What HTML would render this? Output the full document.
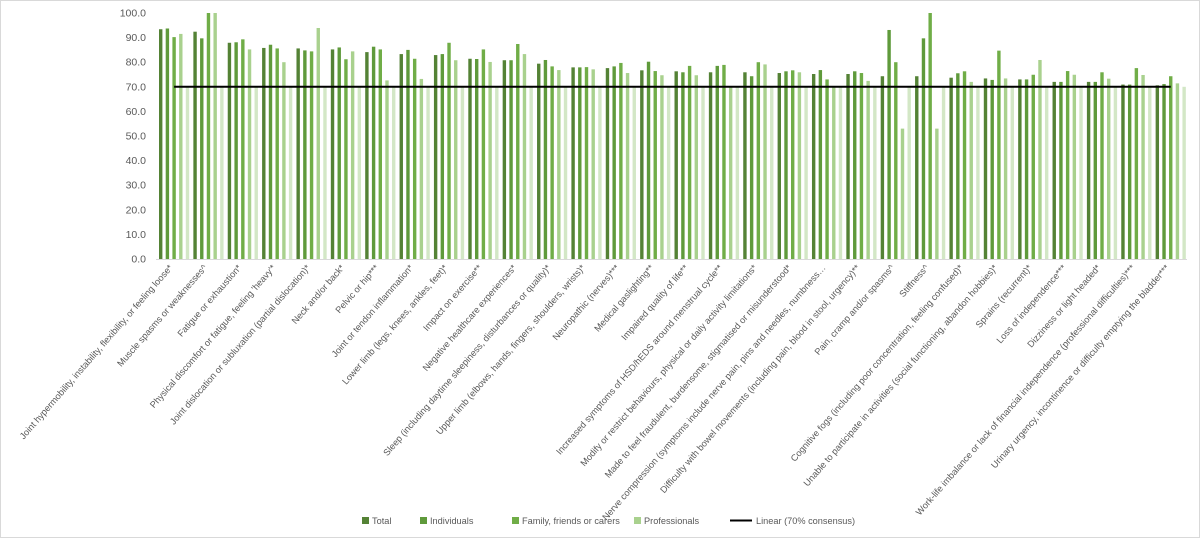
<!DOCTYPE html>
<html><head><meta charset="utf-8"><style>
html,body{margin:0;padding:0;background:#fff}
svg{display:block;font-family:"Liberation Sans",sans-serif}
</style></head><body>
<svg id="chart" width="1200" height="538" viewBox="0 0 1200 538" xmlns="http://www.w3.org/2000/svg">
<rect x="0.5" y="0.5" width="1199" height="537" fill="#fff" stroke="#d9d9d9"/>
<g id="yaxis"></g>
<g id="bars"></g>
<g id="xaxis"></g>
<g id="legend"></g>
</svg>
<script>
const categories = [
"Joint hypermobility, instability, flexibility, or feeling loose*",
"Muscle spasms or weaknesses^",
"Fatigue or exhaustion*",
"Physical discomfort or fatigue, feeling 'heavy'*",
"Joint dislocation or subluxation (partial dislocation)*",
"Neck and/or back*",
"Pelvic or hip***",
"Joint or tendon inflammation*",
"Lower limb (legs, knees, ankles, feet)*",
"Impact on exercise**",
"Negative healthcare experiences*",
"Sleep (including daytime sleepiness, disturbances or quality)*",
"Upper limb (elbows, hands, fingers, shoulders, wrists)*",
"Neuropathic (nerves)***",
"Medical gaslighting**",
"Impaired quality of life**",
"Increased symptoms of HSD/hEDS around menstrual cycle**",
"Modify or restrict behaviours, physical or daily activity limitations*",
"Made to feel fraudulent, burdensome, stigmatised or misunderstood*",
"Nerve compression (symptoms include nerve pain, pins and needles, numbness…",
"Difficulty with bowel movements (including pain, blood in stool, urgency)**",
"Pain, cramp and/or spasms^",
"Stiffness^",
"Cognitive fogs (including poor concentration, feeling confused)*",
"Unable to participate in activities (social functioning, abandon hobbies)*",
"Sprains (recurrent)*",
"Loss of independence***",
"Dizziness or light headed*",
"Work-life imbalance or lack of financial independence (professional difficulties)***",
"Urinary urgency, incontinence or difficulty emptying the bladder***"
];
const totalValues = [93.4,92.4,87.9,85.8,85.6,85.2,84.1,83.3,82.9,81.4,80.8,79.4,77.9,77.6,76.7,76.3,75.9,75.9,75.6,75.2,75.2,74.3,74.3,73.7,73.4,73.0,72.0,72.0,70.9,70.6];
const individualValues = [93.7,89.7,88.1,87.1,84.8,86.0,86.3,85.0,83.3,81.3,80.8,80.9,77.9,78.3,80.2,75.9,78.5,74.3,76.3,76.8,76.3,93.1,89.7,75.5,72.8,73.0,72.0,72.0,70.9,71.1];
const familyValues = [90.2,100,89.3,85.6,84.4,81.2,85.2,81.4,87.9,85.2,87.4,78.3,78.0,79.7,76.4,78.5,78.9,80.0,76.7,73.0,75.6,80.0,100,76.3,84.7,74.9,76.4,75.9,77.6,74.3];
const professionalValues = [91.5,100,85.2,80.0,93.9,84.4,72.6,73.2,80.8,80.1,83.3,76.8,77.1,75.6,74.7,74.7,70.0,79.1,75.9,70.0,72.4,53.0,53.0,72.0,73.4,80.9,74.9,73.3,74.8,71.4];
const consensusValue = 70;
const yTicks = ["0.0","10.0","20.0","30.0","40.0","50.0","60.0","70.0","80.0","90.0","100.0"];

const NS="http://www.w3.org/2000/svg";
const X0=156, X1=1187, Y0=259, YTOP=13;
const pitch=(X1-X0)/categories.length;
function yScale(v){return Y0-(v/100)*(Y0-YTOP);}
function xBar(k,s){return X0+pitch*k+3+s*6.7;}
function mk(tag,attrs,parent){const e=document.createElementNS(NS,tag);for(const a in attrs)e.setAttribute(a,attrs[a]);parent.appendChild(e);return e;}

const yaxis=document.getElementById('yaxis');
yTicks.forEach(t=>{
  const e=mk('text',{x:146,y:yScale(parseFloat(t))+3.5,'text-anchor':'end','font-size':'10.5',fill:'#595959'},yaxis);
  
  
  e.textContent=t;
});

const bars=document.getElementById('bars');
const series=[
 {vals:totalValues,color:'#548235',name:'total'},
 {vals:individualValues,color:'#5f9a3b',name:'individuals'},
 {vals:familyValues,color:'#70ad47',name:'family'},
 {vals:professionalValues,color:'#a9d18e',name:'professionals'}
];
categories.forEach((c,k)=>{
  series.forEach((s,si)=>{
    const v=s.vals[k];
    const r=mk('rect',{x:xBar(k,si),y:yScale(v),width:3.4,height:Y0-yScale(v),fill:s.color},bars);
    
    
  });
  const r=mk('rect',{x:xBar(k,4),y:yScale(consensusValue),width:3.4,height:Y0-yScale(consensusValue),fill:'#d3e7c6'},bars);
  
  
});
const ln=mk('line',{x1:xBar(0,2)+1.7,x2:xBar(categories.length-1,2)+1.7,y1:yScale(consensusValue),y2:yScale(consensusValue),stroke:'#000','stroke-width':2},bars);



const xaxis=document.getElementById('xaxis');
const ax=mk('line',{x1:X0,x2:X1,y1:Y0+0.5,y2:Y0+0.5,stroke:'#d9d9d9','stroke-width':1},xaxis);


categories.forEach((c,k)=>{
  const cx=X0+pitch*k+pitch/2;
  const t=mk('text',{x:cx,y:Y0+9,'text-anchor':'end','font-size':'9.2',fill:'#595959',transform:`rotate(-49 ${cx} ${Y0+9})`},xaxis);
  
  
  t.textContent=c;
});

const legend=document.getElementById('legend');
const items=[
 {label:'Total',color:'#548235',x:362},
 {label:'Individuals',color:'#5f9a3b',x:420},
 {label:'Family, friends or carers',color:'#70ad47',x:512},
 {label:'Professionals',color:'#a9d18e',x:634}
];
items.forEach(it=>{
  const g=mk('g',{},legend);
  
  
  mk('rect',{x:it.x,y:517,width:7,height:7,fill:it.color},g);
  const t=mk('text',{x:it.x+10,y:524,'font-size':'9.2',fill:'#595959'},g);
  t.textContent=it.label;
});
const lg=mk('g',{},legend);


mk('line',{x1:730,x2:752,y1:520.5,y2:520.5,stroke:'#000','stroke-width':2},lg);
const lt=mk('text',{x:756,y:524,'font-size':'9.2',fill:'#595959'},lg);
lt.textContent='Linear (70% consensus)';
</script>
</body></html>
